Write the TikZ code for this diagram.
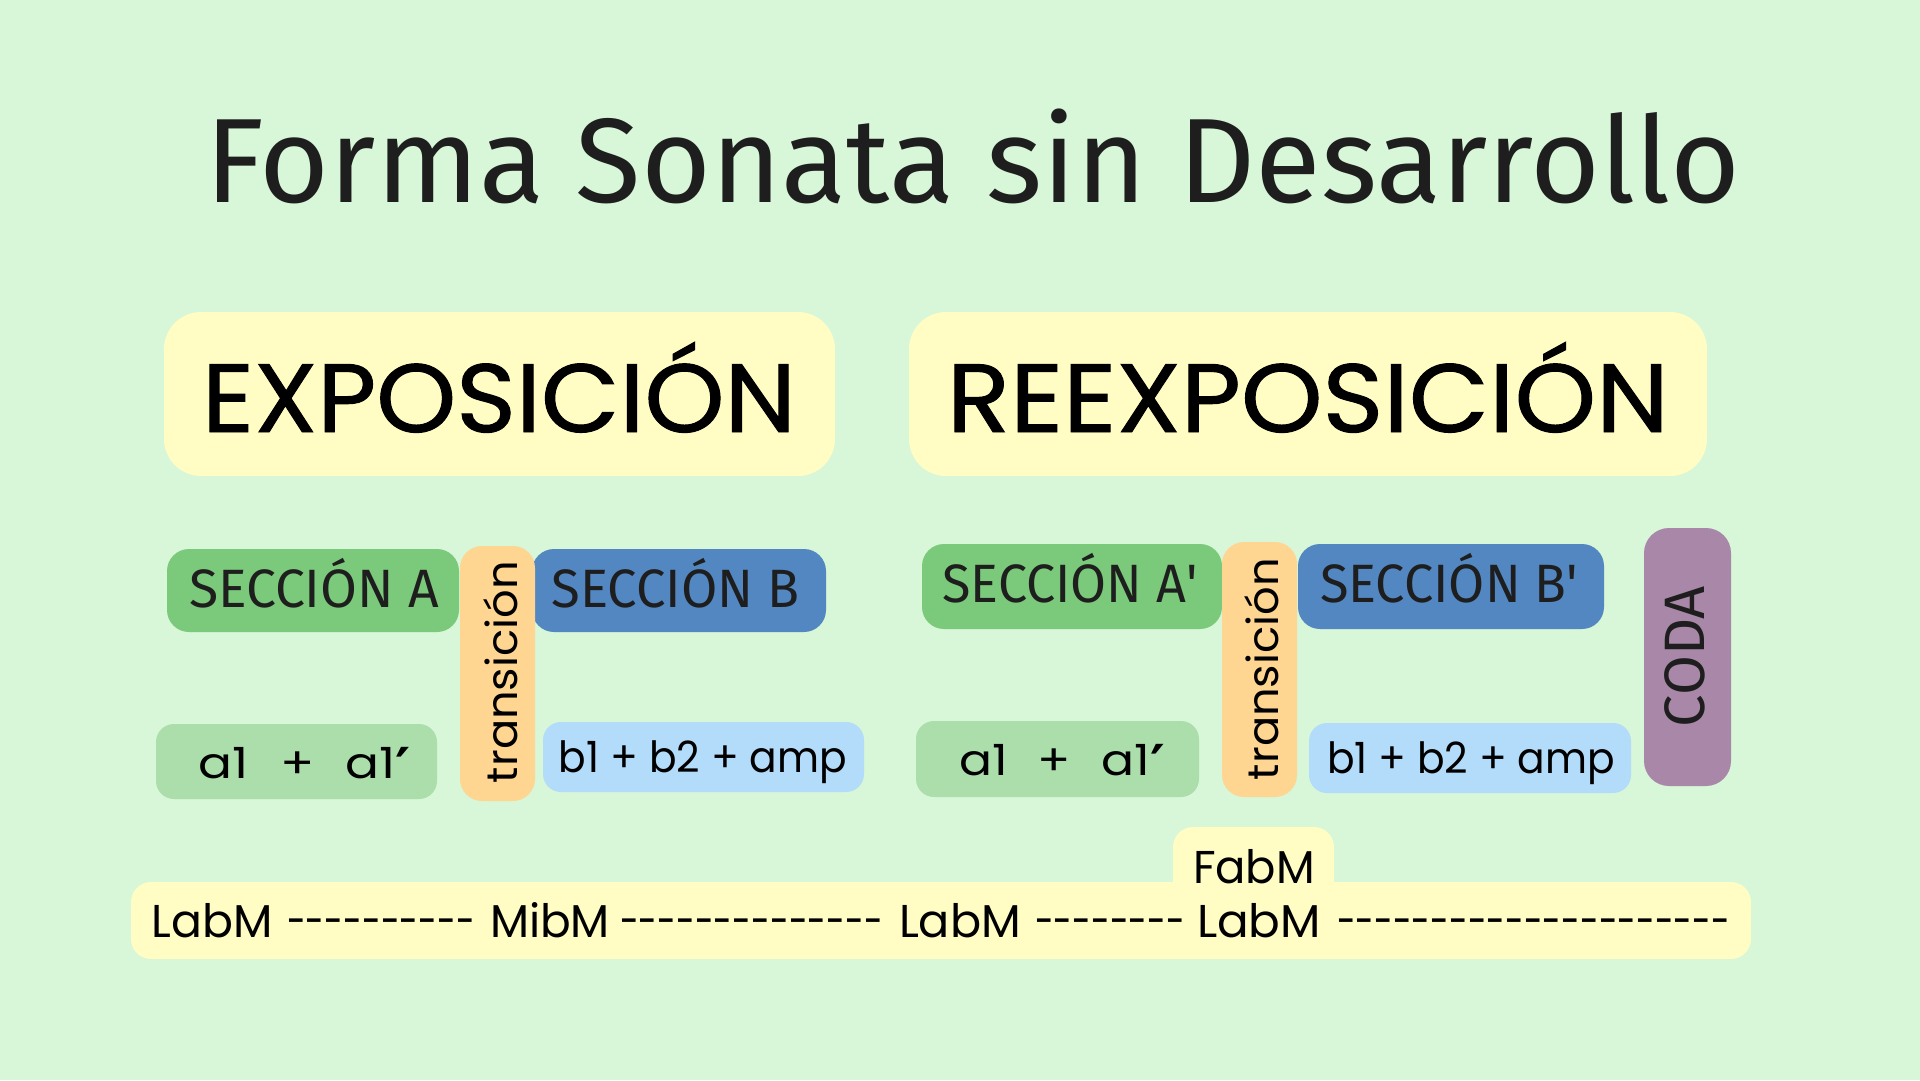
\documentclass[tikz,border=0pt]{standalone}
\usepackage{fontspec}
\usepackage{graphicx}
\newfontfamily\qs{Poppins}
\newfontfamily\qsb{Poppins}[FakeBold=1]
\newfontfamily\sk{Fira Sans}
\newfontfamily\dv{DejaVu Sans}
\definecolor{bg}{HTML}{D8F6D8}
\definecolor{yel}{HTML}{FFFDC4}
\definecolor{grn}{HTML}{7BC97B}
\definecolor{blu}{HTML}{5287C2}
\definecolor{org}{HTML}{FFD592}
\definecolor{lgr}{HTML}{ABDEAB}
\definecolor{lbl}{HTML}{B3DBFA}
\definecolor{pur}{HTML}{A887A8}
\definecolor{ink}{HTML}{1E1E1E}
\newcommand\fitw[2]{\resizebox{#1pt}{\height}{#2}}
\newcommand\hy[1]{\foreach\k in {1,...,#1}{\mbox{-}}}
\newcommand\aplusa{a1\hspace{0.62em}+\hspace{0.62em}a1\raisebox{-0.2em}{\scalebox{1.15}[1.25]{\dv\bfseries ′}}}
\begin{document}
\begin{tikzpicture}[x=1pt,y=-1pt,
  box/.style={inner sep=0pt,draw=none,outer sep=0pt},
  sketch/.style={inner sep=0pt,text=ink,font=\sk\fontsize{54}{54}\selectfont},
  quick/.style={inner sep=0pt,text=black,font=\qs\fontsize{43}{43}\selectfont},
  big/.style={inner sep=0pt,text=black,font=\qsb\fontsize{97}{97}\selectfont},
  low/.style={inner sep=0pt,text=black,font=\qs\fontsize{46}{46}\selectfont,anchor=base}]
\fill[bg] (0,0) rectangle (1920,1080);
\useasboundingbox (0,0) rectangle (1920,1080);

% title
\node[inner sep=0pt,anchor=base,text=ink,font=\sk\fontsize{120}{120}\selectfont] (title) at (972.5,202) {\fitw{1535}{Forma Sonata sin Desarrollo}};

% big section boxes
\node[box,fill=yel,rounded corners=37pt,minimum width=671pt,minimum height=164pt] (expo) at (499.5,394) {};
\node[box,fill=yel,rounded corners=37pt,minimum width=798pt,minimum height=164pt] (reexpo) at (1308,394) {};
\node[big,anchor=base] (expoT) at (499,432) {\fitw{594}{EXPOSICIÓN}};
\node[big,anchor=base] (reexT) at (1308,432) {\fitw{722}{REEXPOSICIÓN}};

% left group
\node[box,fill=grn,rounded corners=22pt,minimum width=292pt,minimum height=83pt] (secA) at (313,590.5) {};
\node[box,fill=blu,rounded corners=22pt,minimum width=294pt,minimum height=83pt] (secB) at (679,590.5) {};
\node[box,fill=org,rounded corners=22pt,minimum width=75pt,minimum height=255pt] (trL) at (497.5,673.5) {};
\node[box,fill=lgr,rounded corners=18pt,minimum width=281pt,minimum height=75pt] (a1L) at (296.5,761.5) {};
\node[box,fill=lbl,rounded corners=18pt,minimum width=321pt,minimum height=70pt] (b1L) at (703.5,757) {};

\node[sketch,anchor=base] (secAT) at (314,607) {\fitw{250}{SECCIÓN A}};
\node[sketch,anchor=base] (secBT) at (675.5,607) {\fitw{248}{SECCIÓN B}};
\node[quick,rotate=90,anchor=base] (trLT) at (517,672) {\fitw{222}{transición}};
\node[quick,anchor=base] (a1LT) at (305,778) {\fitw{212}{\aplusa}};
\node[quick,anchor=base] (b1LT) at (703,772) {\fitw{288}{b1 + b2 + amp}};

% right group
\node[box,fill=grn,rounded corners=22pt,minimum width=300pt,minimum height=85pt] (secA2) at (1072,586.5) {};
\node[box,fill=blu,rounded corners=22pt,minimum width=306pt,minimum height=85pt] (secB2) at (1451,586.5) {};
\node[box,fill=org,rounded corners=22pt,minimum width=75pt,minimum height=255pt] (trR) at (1259.5,669.5) {};
\node[box,fill=pur,rounded corners=25pt,minimum width=87pt,minimum height=258pt] (coda) at (1687.5,657) {};
\node[box,fill=lgr,rounded corners=18pt,minimum width=283pt,minimum height=76pt] (a1R) at (1057.5,759) {};
\node[box,fill=lbl,rounded corners=18pt,minimum width=322pt,minimum height=70pt] (b1R) at (1470,758) {};

\node[sketch,anchor=base] (secA2T) at (1070,602) {\fitw{255}{SECCIÓN A\textquotesingle}};
\node[sketch,anchor=base] (secB2T) at (1449,602) {\fitw{258}{SECCIÓN B\textquotesingle}};
\node[quick,rotate=90,anchor=base] (trRT) at (1278,669) {\fitw{222}{transición}};
\node[sketch,rotate=90,anchor=base,font=\sk\fontsize{57}{57}\selectfont] (codaT) at (1704,656.5) {\fitw{141}{CODA}};
\node[quick,anchor=base] (a1RT) at (1062,775) {\fitw{206}{\aplusa}};
\node[quick,anchor=base] (b1RT) at (1471,773) {\fitw{288}{b1 + b2 + amp}};

% key line
\node[box,fill=yel,rounded corners=20pt,minimum width=161pt,minimum height=76pt] (fabtab) at (1253.5,865) {};
\node[box,fill=yel,rounded corners=20pt,minimum width=1620pt,minimum height=77pt] (bar) at (941,920.5) {};
\node[low] (fabT) at (1254,883) {\fitw{122}{FabM}};
\node[low] (k1) at (212.5,937) {\fitw{121}{LabM}};
\node[low] (d1) at (381,937) {\fitw{188}{\hy{10}}};
\node[low] (k2) at (550,937) {\fitw{120}{MibM}};
\node[low] (d2) at (751.5,937) {\fitw{263}{\hy{14}}};
\node[low] (k3) at (960,937) {\fitw{122}{LabM}};
\node[low] (d3) at (1110,937) {\fitw{150}{\hy{8}}};
\node[low] (k4) at (1259,937) {\fitw{124}{LabM}};
\node[low] (d4) at (1533.5,937) {\fitw{393}{\hy{21}}};
\end{tikzpicture}
\end{document}
